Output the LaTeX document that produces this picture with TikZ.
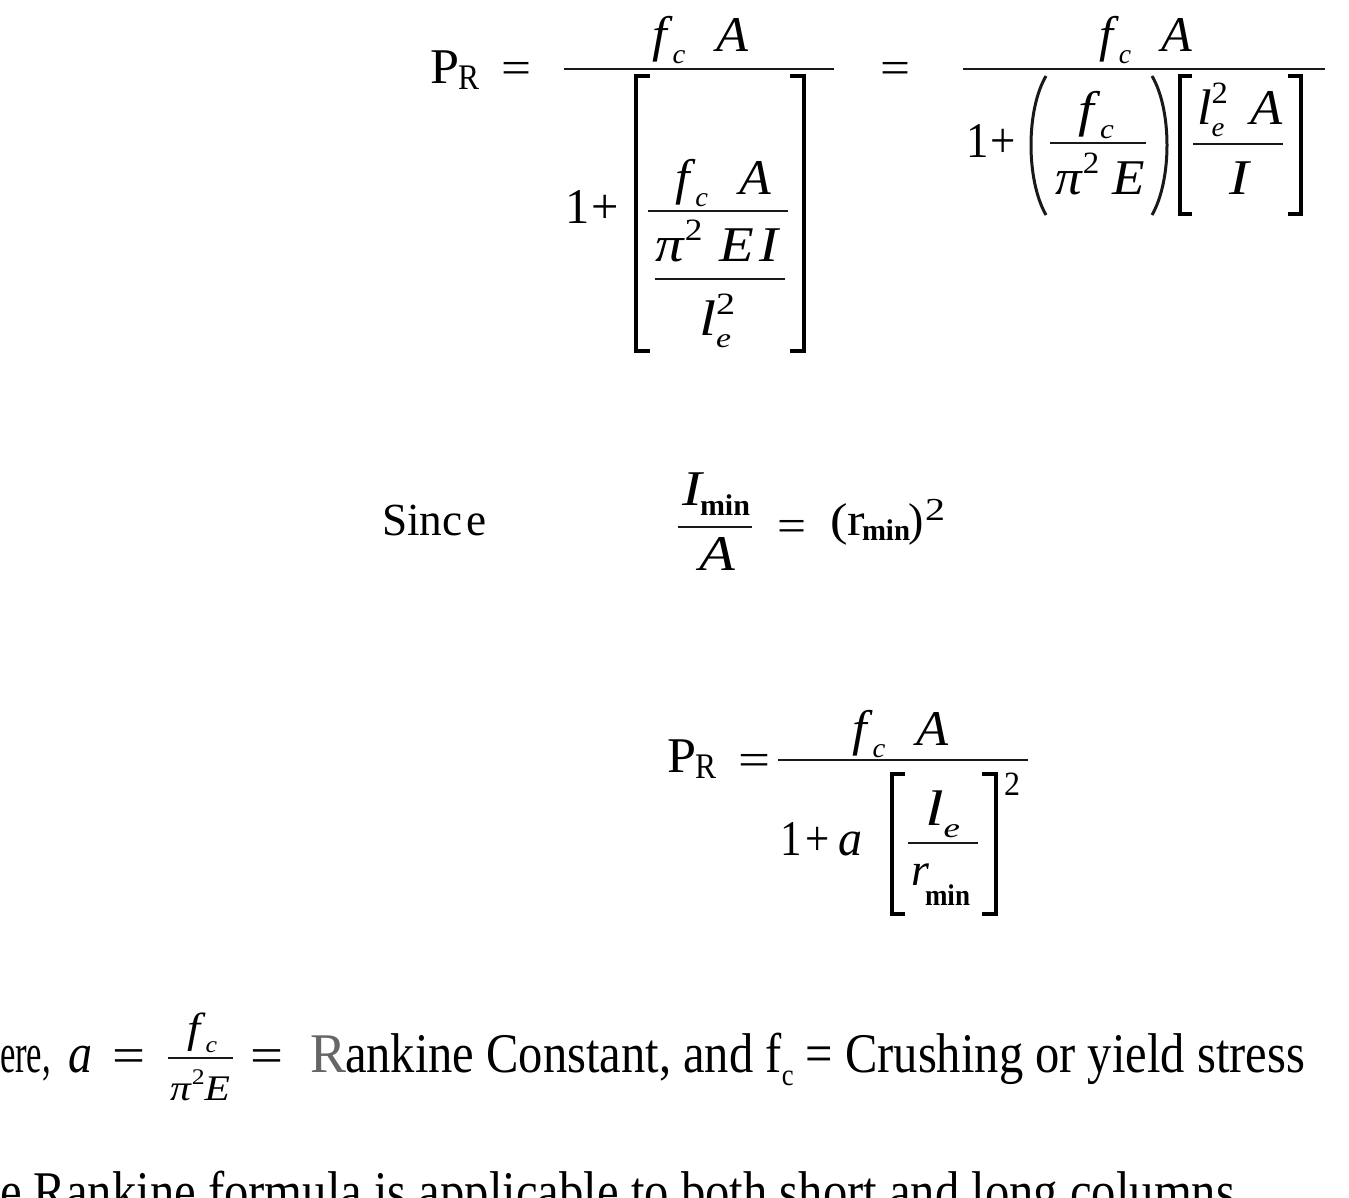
\documentclass[tikz,border=0pt]{standalone}
\usepackage{fontspec}
\usepackage{graphicx}
\setmainfont{Liberation Serif}
\newcommand\dn[1]{\raisebox{-.24em}{\scalebox{.55}{#1}}}
\newcommand\up[1]{\raisebox{.42em}{\scalebox{.62}{#1}}}
\newcommand\fca{\textit{f}\dn{\textit{c}}\hspace{.6em}\textit{A}}
\newcommand\lea{\textit{l}\makebox[0pt][l]{\up{2}}\dn{\textit{e}}}
\newcommand\tx[5]{\node[txt,font=\fontsize{#4}{#4}\selectfont] (#1) at (#2,#3) {#5};}
\newcommand\rb[2]{\resizebox{#1pt}{\height}{#2}}
\tikzset{
  txt/.style={anchor=base west,inner sep=0pt,outer sep=0pt,text=black},
  fracbar/.style={draw=black!90,line width=2.4pt},
  brk/.style={draw=black,line width=4.5pt,line cap=butt,line join=miter},
  prn/.style={draw=black!90,line width=3pt}
}
\begin{document}
\begin{tikzpicture}[x=1pt,y=-1pt]
\useasboundingbox (0,0) rectangle (1349,1198);
% first formula
\tx{pa}{430}{84}{50}{\rb{29}{P}}
\tx{ra}{458}{90}{36}{\rb{21}{R}}
\tx{eqa}{501}{84}{46}{\rb{30}{=}}
\tx{fa}{652}{52}{50}{\rb{97}{\fca}}
\draw[fracbar] (564,69) -- (834,69);
\tx{ona}{565}{224}{50}{\rb{54}{1\hspace{.05em}+}}
\draw[brk] (650,76) -- (636,76) -- (636,351) -- (650,351);
\draw[brk] (790,76) -- (804,76) -- (804,351) -- (790,351);
\tx{fb}{675}{195}{50}{\rb{96}{\fca}}
\draw[fracbar] (648,211) -- (788,211);
\tx{pib}{655}{262}{50}{\rb{126}{\textit{π}\up{2}\hspace{.3em}\textit{E}\hspace{.1em}\textit{I}}}
\draw[fracbar] (655,279) -- (785,279);
\tx{leb}{699}{335}{50}{\rb{32}{\lea}}
\tx{eqb}{880}{84}{46}{\rb{30}{=}}
\tx{fc}{1099}{52}{50}{\rb{93}{\fca}}
\draw[fracbar] (963,69) -- (1325,69);
\tx{onb}{966}{158}{50}{\rb{50}{1\hspace{.05em}+}}
\draw[prn] (1046,76) .. controls (1026,110) and (1026,180) .. (1046,215);
\tx{fd}{1078}{127}{50}{\rb{36}{\textit{f}\dn{\textit{c}}}}
\draw[fracbar] (1050,143) -- (1146,143);
\tx{pic}{1055}{195}{50}{\rb{90}{\textit{π}\up{2}\hspace{.25em}\textit{E}}}
\draw[prn] (1152,76) .. controls (1172,110) and (1172,180) .. (1152,215);
\draw[brk] (1192,76) -- (1180,76) -- (1180,214) -- (1192,214);
\tx{lec}{1197}{125}{50}{\rb{86}{\lea\hspace{.5em}\textit{A}}}
\draw[fracbar] (1193,144) -- (1283,144);
\tx{ic}{1229}{195}{50}{\rb{22}{\textit{I}}}
\draw[brk] (1288,76) -- (1301,76) -- (1301,214) -- (1288,214);
% since
\tx{since}{382}{535}{46}{\rb{105}{Sinc\hspace{.1em}e}}
\tx{imin}{682}{505}{50}{\rb{22}{\textit{I}}}
\tx{minc}{700}{515}{30}{\rb{50}{\textbf{min}}}
\draw[fracbar] (678,527) -- (752,527);
\tx{ad}{699}{570}{50}{\rb{36}{\textit{A}}}
\tx{eqc}{777}{541}{46}{\rb{29}{=}}
\tx{rm}{830}{535}{46}{\rb{35}{(r}}
\tx{rmin}{862}{540}{30}{\rb{48}{\textbf{min}}}
\tx{rp}{908}{535}{46}{)}
\tx{rsq}{925}{520}{32}{\rb{20}{2}}
% third formula
\tx{pe}{667}{772}{50}{\rb{29}{P}}
\tx{re}{695}{778}{36}{\rb{21}{R}}
\tx{eqe}{738}{775}{46}{\rb{32}{=}}
\tx{fe}{852}{745}{50}{\rb{97}{\fca}}
\draw[fracbar] (778,760) -- (1028,760);
\tx{one}{780}{855}{50}{\rb{50}{1\hspace{.1em}+}}
\tx{ae}{838}{855}{50}{\rb{24}{\textit{a}}}
\draw[brk] (905,774) -- (892,774) -- (892,914) -- (905,914);
\tx{le}{925}{825}{50}{\rb{35}{\textit{l}\dn{\textit{e}}}}
\draw[fracbar] (908,843) -- (978,843);
\tx{re2}{911}{885}{46}{\rb{18}{\textit{r}}}
\tx{min3}{925}{905}{30}{\rb{45}{\textbf{min}}}
\draw[brk] (982,774) -- (996,774) -- (996,914) -- (982,914);
\tx{sqe}{1004}{795}{34}{\rb{16}{2}}
% bottom lines
\tx{where}{0}{1072}{56}{\rb{51}{ere,}}
\tx{a}{68}{1072}{56}{\rb{24}{\textit{a}}}
\tx{eqf}{112}{1072}{50}{\rb{33}{=}}
\tx{ff}{187}{1042}{42}{\rb{30}{\textit{f}\dn{\textit{c}}}}
\draw[fracbar] (168,1058) -- (233,1058);
\tx{pif}{170}{1100}{36}{\rb{60}{\textit{π}\up{2}\textit{E}}}
\tx{eqg}{250}{1072}{50}{\rb{33}{=}}
\tx{rank}{310}{1072}{56}{\rb{36}{\textcolor{black!60}{R}}}
\tx{text}{345}{1072}{56}{\rb{960}{ankine Constant, and f\dn{c} = Crushing or yield stress}}
\tx{last}{0}{1210}{56}{\rb{1235}{e Rankine formula is applicable to both short and long columns}}
\end{tikzpicture}
\end{document}
